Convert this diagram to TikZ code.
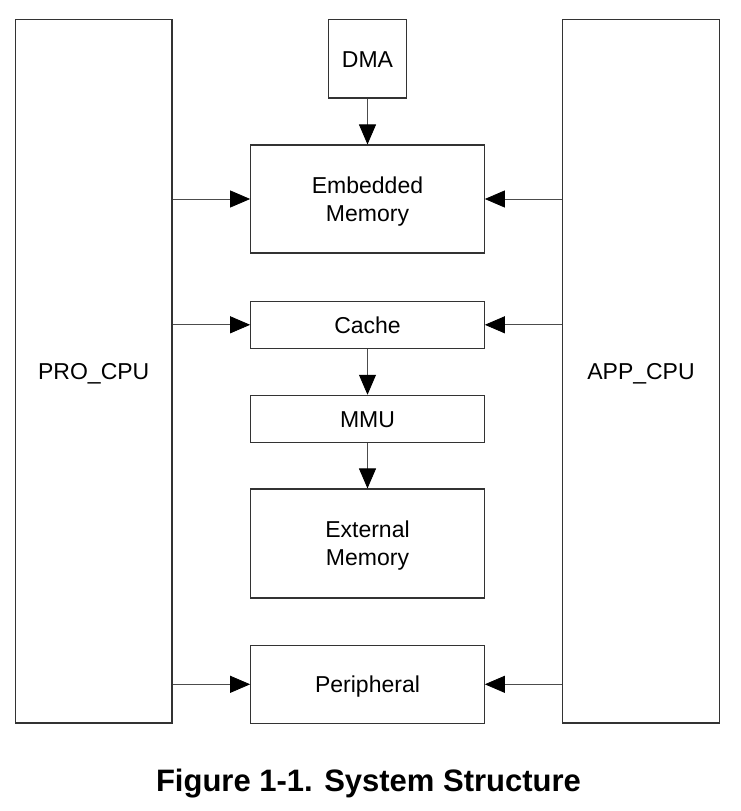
\documentclass[tikz,border=0pt]{standalone}
\usepackage{fontspec}
\setmainfont{Liberation Sans}
\usetikzlibrary{arrows.meta}
\newcommand{\topgap}{\rule{0pt}{21.5pt}}
\begin{document}
\begin{tikzpicture}[x=1pt,y=-1pt,
  blk/.style={draw=black!80,line width=1.1pt,inner sep=0pt,align=center,
    font=\fontsize{23}{28}\selectfont,text height=16.5pt,text depth=-2pt},
  blktwo/.style={blk,text height=,text depth=},
  arr/.style={draw=black!70,line width=0.8pt,-{Triangle[length=20pt,width=17pt,color=black]}}]
\useasboundingbox (0,0) rectangle (741,811);
\node[blk,minimum width=156.5pt,minimum height=703.5pt] (pro) at (93.75,371.25) {PRO\_CPU};
\node[blk,minimum width=156.6pt,minimum height=703.5pt] (app) at (641,371.25) {APP\_CPU};
\node[blk,minimum width=78.4pt,minimum height=78.5pt] (dma) at (367.5,58.75) {DMA};
\node[blktwo,minimum width=233.6pt,minimum height=108pt] (emb) at (367.5,199) {\topgap Embedded\\Memory};
\node[blk,minimum width=233.6pt,minimum height=47pt] (cache) at (367.5,324.8) {Cache};
\node[blk,minimum width=233.6pt,minimum height=47pt] (mmu) at (367.5,418.8) {MMU};
\node[blktwo,minimum width=233.6pt,minimum height=109pt] (ext) at (367.5,543.5) {\topgap External\\Memory};
\node[blk,minimum width=233.6pt,minimum height=78pt] (per) at (367.5,684.3) {Peripheral};
\node[font=\fontsize{31}{34}\selectfont\bfseries,anchor=base,inner sep=0pt] (cap) at (368.5,791.7) {Figure 1-1. System Structure};
\draw[arr] (dma) -- (emb);
\draw[arr] (cache) -- (mmu);
\draw[arr] (mmu) -- (ext);
\draw[arr] (pro.east |- emb.west) -- (emb.west);
\draw[arr] (pro.east |- cache.west) -- (cache.west);
\draw[arr] (pro.east |- per.west) -- (per.west);
\draw[arr] (app.west |- emb.east) -- (emb.east);
\draw[arr] (app.west |- cache.east) -- (cache.east);
\draw[arr] (app.west |- per.east) -- (per.east);
\end{tikzpicture}
\end{document}
